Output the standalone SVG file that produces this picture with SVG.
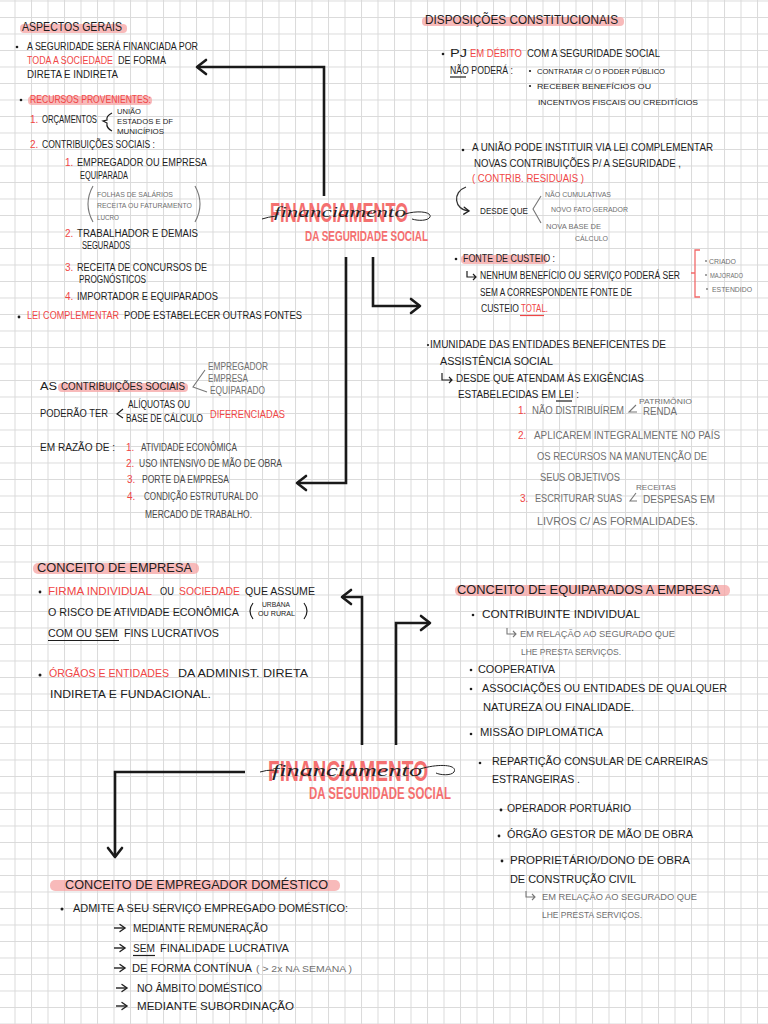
<svg xmlns="http://www.w3.org/2000/svg" width="768" height="1024" viewBox="0 0 768 1024">
<defs>
<pattern id="grid" width="16.5" height="16.5" patternUnits="userSpaceOnUse" x="14.5" y="0.5">
<path d="M0.5 0V16.5M0 0.5H16.5" stroke="#dadada" stroke-width="1" fill="none"/>
</pattern>
<marker id="ah" markerUnits="userSpaceOnUse" markerWidth="18" markerHeight="18" refX="13" refY="9" orient="auto">
<path d="M4,2 L13,9 L4,16" fill="none" stroke="#1a1a1a" stroke-width="2.6" stroke-linecap="round" stroke-linejoin="round"/>
</marker>
<marker id="ahs" markerUnits="userSpaceOnUse" markerWidth="10" markerHeight="10" refX="7" refY="5" orient="auto">
<path d="M2,1.5 L7,5 L2,8.5" fill="none" stroke="#222" stroke-width="1.4" stroke-linecap="round"/>
</marker>
<style>
text{font-family:"Liberation Sans",Arial,sans-serif;font-size:10px;fill:#1d1d1d}
.b{font-size:11.5px}
.h{font-size:12px}
.s{font-size:8px}
.s9{font-size:9px}
.r{fill:#f04646}
.g{fill:#6f6f6f}
.d{fill:#474747}
.hl{fill:#f6a3a3;opacity:.75}
.ttl{font-weight:bold;fill:#f47070}
.cur{font-family:"Liberation Serif",serif;font-style:italic;fill:#222}
.conn{stroke:#1a1a1a;stroke-width:2.6;fill:none}
.ln{stroke:#1d1d1d;stroke-width:1.2;fill:none}
.gl{stroke:#777;stroke-width:1.1;fill:none}
.dot{fill:#1d1d1d}
.gdot{fill:#777}
.arr{stroke:#222;stroke-width:1.4;fill:none}
</style>
</defs>
<rect width="768" height="1024" fill="#ffffff"/>
<rect width="768" height="1024" fill="url(#grid)"/>

<g id="connectors">
<path class="conn" d="M324,196 V67 H197" marker-end="url(#ah)"/>
<path class="conn" d="M346,257 V483 H297" marker-end="url(#ah)"/>
<path class="conn" d="M373,257 V306 H420" marker-end="url(#ah)"/>
<path class="conn" d="M362,745 V597 H342" marker-end="url(#ah)"/>
<path class="conn" d="M396,745 V623 H430" marker-end="url(#ah)"/>
<path class="conn" d="M245,772 H115 V857" marker-end="url(#ah)"/>
</g>

<g id="title-top">
<text class="ttl" x="270" y="222" style="font-size:27px" textLength="138" lengthAdjust="spacingAndGlyphs">FINANCIAMENTO</text>
<text class="ttl" x="305" y="241" style="font-size:15px" textLength="123" lengthAdjust="spacingAndGlyphs">DA SEGURIDADE SOCIAL</text>
<text class="cur" x="274" y="217" style="font-size:15px" textLength="132" lengthAdjust="spacingAndGlyphs">financiamento</text>
<path d="M262,219 Q268,217 276,216 M405,214 C418,210 432,212 430,217 C428,221 418,221 412,219" stroke="#222" stroke-width="1" fill="none"/>
</g>

<g id="title-bottom">
<text class="ttl" x="268" y="781" style="font-size:30px" textLength="160" lengthAdjust="spacingAndGlyphs">FINANCIAMENTO</text>
<text class="ttl" x="309" y="799" style="font-size:17px" textLength="142" lengthAdjust="spacingAndGlyphs">DA SEGURIDADE SOCIAL</text>
<text class="cur" x="272" y="776" style="font-size:16px" textLength="150" lengthAdjust="spacingAndGlyphs">financiamento</text>
<path d="M260,772 Q266,770 274,770 M420,769 C440,763 458,765 454,772 C451,776 440,775 436,773" stroke="#222" stroke-width="1" fill="none"/>
</g>

<g id="aspectos-gerais">
<rect class="hl" x="20" y="24" width="107" height="9" rx="4"/>
<text class="h" x="22" y="31" textLength="100" lengthAdjust="spacingAndGlyphs">ASPECTOS GERAIS</text>
<circle class="dot" cx="17" cy="47" r="1.3"/>
<text x="27" y="50" textLength="171" lengthAdjust="spacingAndGlyphs">A SEGURIDADE SERÁ FINANCIADA POR</text>
<text class="r" x="27" y="64" textLength="86" lengthAdjust="spacingAndGlyphs">TODA A SOCIEDADE</text>
<text x="118" y="64" textLength="48" lengthAdjust="spacingAndGlyphs">DE FORMA</text>
<text x="27" y="78" textLength="91" lengthAdjust="spacingAndGlyphs">DIRETA E INDIRETA</text>
</g>

<g id="recursos">
<circle class="dot" cx="21" cy="100" r="1.3"/>
<rect class="hl" x="28" y="96" width="124" height="9" rx="4"/>
<text class="r" x="30" y="103" textLength="121" lengthAdjust="spacingAndGlyphs">RECURSOS PROVENIENTES:</text>
<text class="r" x="30" y="123">1.</text>
<text x="42" y="123" textLength="55" lengthAdjust="spacingAndGlyphs">ORÇAMENTOS</text>
<path class="ln" d="M112,113 Q106,116 107,120 L103,121 L107,123 Q106,128 112,131"/>
<text class="s" x="117" y="114" textLength="24" lengthAdjust="spacingAndGlyphs">UNIÃO</text>
<text class="s" x="117" y="124" textLength="56" lengthAdjust="spacingAndGlyphs">ESTADOS E DF</text>
<text class="s" x="117" y="134" textLength="47" lengthAdjust="spacingAndGlyphs">MUNICÍPIOS</text>
<text class="r" x="30" y="148">2.</text>
<text x="42" y="148" textLength="113" lengthAdjust="spacingAndGlyphs">CONTRIBUIÇÕES SOCIAIS :</text>
<text class="r" x="65" y="166">1.</text>
<text x="77" y="166" textLength="130" lengthAdjust="spacingAndGlyphs">EMPREGADOR OU EMPRESA</text>
<text x="80" y="179" textLength="48" lengthAdjust="spacingAndGlyphs">EQUIPARADA</text>
<path class="gl" d="M93,186 Q83,204 93,222 M195,186 Q205,204 195,222"/>
<text class="s g" x="97" y="197" textLength="76" lengthAdjust="spacingAndGlyphs">FOLHAS DE SALÁRIOS</text>
<text class="s g" x="97" y="208" textLength="95" lengthAdjust="spacingAndGlyphs">RECEITA OU FATURAMENTO</text>
<text class="s g" x="97" y="220" textLength="22" lengthAdjust="spacingAndGlyphs">LUCRO</text>
<text class="r" x="65" y="237">2.</text>
<text x="77" y="237" textLength="121" lengthAdjust="spacingAndGlyphs">TRABALHADOR E DEMAIS</text>
<text x="82" y="249" textLength="48" lengthAdjust="spacingAndGlyphs">SEGURADOS</text>
<text class="r" x="65" y="271">3.</text>
<text x="77" y="271" textLength="130" lengthAdjust="spacingAndGlyphs">RECEITA DE CONCURSOS DE</text>
<text x="79" y="283" textLength="67" lengthAdjust="spacingAndGlyphs">PROGNÓSTICOS</text>
<text class="r" x="65" y="300">4.</text>
<text x="77" y="300" textLength="141" lengthAdjust="spacingAndGlyphs">IMPORTADOR E EQUIPARADOS</text>
<circle class="dot" cx="19" cy="317" r="1.4"/>
<text class="r" x="27" y="319" textLength="92" lengthAdjust="spacingAndGlyphs">LEI COMPLEMENTAR</text>
<text x="124" y="319" textLength="178" lengthAdjust="spacingAndGlyphs">PODE ESTABELECER OUTRAS FONTES</text>
</g>

<g id="contribuicoes-sociais">
<text x="40" y="390" textLength="17" lengthAdjust="spacingAndGlyphs">AS</text>
<rect class="hl" x="58" y="383" width="130" height="9" rx="4"/>
<text x="61" y="390" textLength="124" lengthAdjust="spacingAndGlyphs">CONTRIBUIÇÕES SOCIAIS</text>
<path class="gl" d="M205,370 L193,387 L207,392"/>
<text class="g" x="208" y="370" textLength="60" lengthAdjust="spacingAndGlyphs">EMPREGADOR</text>
<text class="g" x="208" y="382" textLength="40" lengthAdjust="spacingAndGlyphs">EMPRESA</text>
<text class="g" x="210" y="394" textLength="55" lengthAdjust="spacingAndGlyphs">EQUIPARADO</text>
<text x="40" y="417" textLength="68" lengthAdjust="spacingAndGlyphs">PODERÃO TER</text>
<path class="ln" d="M123,409 L117,414 L123,418"/>
<text x="128" y="408" textLength="62" lengthAdjust="spacingAndGlyphs">ALÍQUOTAS OU</text>
<text x="126" y="422" textLength="77" lengthAdjust="spacingAndGlyphs">BASE DE CÁLCULO</text>
<text class="r" x="210" y="418" textLength="75" lengthAdjust="spacingAndGlyphs">DIFERENCIADAS</text>
<text x="40" y="451" textLength="75" lengthAdjust="spacingAndGlyphs">EM RAZÃO DE :</text>
<text class="r" x="126" y="451">1.</text>
<text class="d" x="141" y="451" textLength="96" lengthAdjust="spacingAndGlyphs">ATIVIDADE ECONÔMICA</text>
<text class="r" x="126" y="467">2.</text>
<text class="d" x="139" y="467" textLength="143" lengthAdjust="spacingAndGlyphs">USO INTENSIVO DE MÃO DE OBRA</text>
<text class="r" x="127" y="483">3.</text>
<text class="d" x="142" y="483" textLength="87" lengthAdjust="spacingAndGlyphs">PORTE DA EMPRESA</text>
<text class="r" x="127" y="500">4.</text>
<text class="d" x="144" y="500" textLength="114" lengthAdjust="spacingAndGlyphs">CONDIÇÃO ESTRUTURAL DO</text>
<text class="d" x="145" y="518" textLength="107" lengthAdjust="spacingAndGlyphs">MERCADO DE TRABALHO.</text>
</g>

<g id="disposicoes">
<rect class="hl" x="422" y="17" width="202" height="9" rx="4"/>
<text class="h" x="425" y="24" textLength="193" lengthAdjust="spacingAndGlyphs">DISPOSIÇÕES CONSTITUCIONAIS</text>
<circle class="dot" cx="443" cy="54" r="1.3"/>
<text x="450" y="57" textLength="17" lengthAdjust="spacingAndGlyphs">PJ</text>
<text class="r" x="470" y="57" textLength="52" lengthAdjust="spacingAndGlyphs">EM DÉBITO</text>
<text x="527" y="57" textLength="133" lengthAdjust="spacingAndGlyphs">COM A SEGURIDADE SOCIAL</text>
<text x="450" y="74" textLength="63" lengthAdjust="spacingAndGlyphs">NÃO PODERÁ :</text>
<path class="ln" d="M450,77 H466"/>
<circle class="dot" cx="530" cy="71" r="1.1"/>
<text class="s" x="537" y="74" textLength="128" lengthAdjust="spacingAndGlyphs">CONTRATAR C/ O PODER PÚBLICO</text>
<circle class="dot" cx="530" cy="86" r="1.1"/>
<text class="s" x="537" y="89" textLength="114" lengthAdjust="spacingAndGlyphs">RECEBER BENEFÍCIOS OU</text>
<text class="s" x="538" y="105" textLength="160" lengthAdjust="spacingAndGlyphs">INCENTIVOS FISCAIS OU CREDITÍCIOS</text>
</g>

<g id="uniao">
<circle class="dot" cx="463" cy="150" r="1.3"/>
<text x="472" y="151" textLength="241" lengthAdjust="spacingAndGlyphs">A UNIÃO PODE INSTITUIR VIA LEI COMPLEMENTAR</text>
<text x="474" y="167" textLength="207" lengthAdjust="spacingAndGlyphs">NOVAS CONTRIBUIÇÕES P/ A SEGURIDADE ,</text>
<text class="r" x="472" y="182" textLength="112" lengthAdjust="spacingAndGlyphs">( CONTRIB. RESIDUAIS )</text>
<path d="M466,187 C452,192 454,210 469,211" stroke="#333" stroke-width="1.3" fill="none" marker-end="url(#ahs)"/>
<text class="s9" x="480" y="214" textLength="48" lengthAdjust="spacingAndGlyphs">DESDE QUE</text>
<path class="gl" d="M541,196 L533,209 L541,223"/>
<text class="s g" x="545" y="197" textLength="66" lengthAdjust="spacingAndGlyphs">NÃO CUMULATIVAS</text>
<text class="s g" x="551" y="212" textLength="77" lengthAdjust="spacingAndGlyphs">NOVO FATO GERADOR</text>
<text class="s g" x="546" y="229" textLength="55" lengthAdjust="spacingAndGlyphs">NOVA BASE DE</text>
<text class="s g" x="575" y="241" textLength="33" lengthAdjust="spacingAndGlyphs">CÁLCULO</text>
</g>

<g id="fonte-custeio">
<circle class="dot" cx="456" cy="259" r="1.3"/>
<rect class="hl" x="461" y="255" width="86" height="9" rx="4"/>
<text x="463" y="262" textLength="92" lengthAdjust="spacingAndGlyphs">FONTE DE CUSTEIO :</text>
<path class="ln" d="M467,271 V277 H476 M473,274 L476,277 L473,280"/>
<text x="480" y="279" textLength="200" lengthAdjust="spacingAndGlyphs">NENHUM BENEFÍCIO OU SERVIÇO PODERÁ SER</text>
<text x="480" y="296" textLength="152" lengthAdjust="spacingAndGlyphs">SEM A CORRESPONDENTE FONTE DE</text>
<text x="481" y="312" textLength="38" lengthAdjust="spacingAndGlyphs">CUSTEIO</text>
<text class="r" x="521" y="312" textLength="27" lengthAdjust="spacingAndGlyphs">TOTAL.</text>
<path d="M520,315.5 H544" stroke="#f04646" stroke-width="1.2"/>
<path d="M700,250 H695 V297 H700 M695,273 H691" stroke="#f26a6a" stroke-width="1.3" fill="none"/>
<circle class="gdot" cx="706" cy="261" r="0.9"/>
<text class="s g" x="709" y="264" textLength="27" lengthAdjust="spacingAndGlyphs">CRIADO</text>
<circle class="gdot" cx="706" cy="275" r="0.9"/>
<text class="s g" x="710" y="278" textLength="33" lengthAdjust="spacingAndGlyphs">MAJORADO</text>
<circle class="gdot" cx="707" cy="289" r="0.9"/>
<text class="s g" x="712" y="292" textLength="40" lengthAdjust="spacingAndGlyphs">ESTENDIDO</text>
</g>

<g id="imunidade">
<circle class="dot" cx="428" cy="345" r="1.1"/>
<text x="430" y="348" textLength="236" lengthAdjust="spacingAndGlyphs">IMUNIDADE DAS ENTIDADES BENEFICENTES DE</text>
<text x="440" y="365" textLength="113" lengthAdjust="spacingAndGlyphs">ASSISTÊNCIA SOCIAL</text>
<path class="ln" d="M442,373 V380 H452 M449,377 L452,380 L449,383"/>
<text x="456" y="382" textLength="188" lengthAdjust="spacingAndGlyphs">DESDE QUE ATENDAM ÀS EXIGÊNCIAS</text>
<text x="458" y="398" textLength="121" lengthAdjust="spacingAndGlyphs">ESTABELECIDAS EM LEI :</text>
<path class="ln" d="M556,401 H572"/>
<text class="r" x="518" y="414">1.</text>
<text class="g" x="532" y="414" textLength="92" lengthAdjust="spacingAndGlyphs">NÃO DISTRIBUÍREM</text>
<path class="gl" d="M636,405 L629,412 H637"/>
<text class="s g" x="639" y="404" textLength="53" lengthAdjust="spacingAndGlyphs">PATRIMÔNIO</text>
<text class="g" x="643" y="415" textLength="34" lengthAdjust="spacingAndGlyphs">RENDA</text>
<text class="r" x="518" y="439">2.</text>
<text class="g" x="534" y="439" textLength="186" lengthAdjust="spacingAndGlyphs">APLICAREM INTEGRALMENTE NO PAÍS</text>
<text class="g" x="537" y="460" textLength="170" lengthAdjust="spacingAndGlyphs">OS RECURSOS NA MANUTENÇÃO DE</text>
<text class="g" x="540" y="481" textLength="80" lengthAdjust="spacingAndGlyphs">SEUS OBJETIVOS</text>
<text class="r" x="520" y="502">3.</text>
<text class="g" x="535" y="502" textLength="87" lengthAdjust="spacingAndGlyphs">ESCRITURAR SUAS</text>
<path class="gl" d="M636,493 L630,501 H637"/>
<text class="s g" x="636" y="490" textLength="40" lengthAdjust="spacingAndGlyphs">RECEITAS</text>
<text class="g" x="643" y="503" textLength="72" lengthAdjust="spacingAndGlyphs">DESPESAS EM</text>
<text class="g" x="537" y="525" textLength="161" lengthAdjust="spacingAndGlyphs">LIVROS C/ AS FORMALIDADES.</text>
</g>

<g id="conceito-empresa">
<rect class="hl" x="33" y="563" width="166" height="11" rx="5"/>
<text class="h" x="37" y="572" textLength="155" lengthAdjust="spacingAndGlyphs">CONCEITO DE EMPRESA</text>
<circle class="dot" cx="40" cy="592" r="1.4"/>
<text class="b r" x="48" y="595" textLength="104" lengthAdjust="spacingAndGlyphs">FIRMA INDIVIDUAL</text>
<text class="b" x="160" y="595" textLength="14" lengthAdjust="spacingAndGlyphs">OU</text>
<text class="b r" x="179" y="595" textLength="61" lengthAdjust="spacingAndGlyphs">SOCIEDADE</text>
<text class="b" x="245" y="595" textLength="70" lengthAdjust="spacingAndGlyphs">QUE ASSUME</text>
<text class="b" x="48" y="616" textLength="191" lengthAdjust="spacingAndGlyphs">O RISCO DE ATIVIDADE ECONÔMICA</text>
<path class="ln" d="M253,603 Q247,611 253,619 M304,603 Q310,611 304,619"/>
<text class="s" x="262" y="607" textLength="28" lengthAdjust="spacingAndGlyphs">URBANA</text>
<text class="s" x="258" y="616" textLength="37" lengthAdjust="spacingAndGlyphs">OU RURAL</text>
<text class="b" x="48" y="637" textLength="70" lengthAdjust="spacingAndGlyphs">COM OU SEM</text>
<path class="ln" d="M48,640.5 H119" stroke-width="1.4"/>
<text class="b" x="124" y="637" textLength="95" lengthAdjust="spacingAndGlyphs">FINS LUCRATIVOS</text>
<circle class="dot" cx="40" cy="675" r="1.5"/>
<text class="b r" x="49" y="677" textLength="120" lengthAdjust="spacingAndGlyphs">ÓRGÃOS E ENTIDADES</text>
<text class="b" x="178" y="677" textLength="130" lengthAdjust="spacingAndGlyphs">DA ADMINIST. DIRETA</text>
<text class="b" x="50" y="698" textLength="161" lengthAdjust="spacingAndGlyphs">INDIRETA E FUNDACIONAL.</text>
</g>

<g id="conceito-equiparados">
<rect class="hl" x="455" y="585" width="275" height="11" rx="5"/>
<text class="h" x="457" y="594" textLength="263" lengthAdjust="spacingAndGlyphs">CONCEITO DE EQUIPARADOS A EMPRESA</text>
<circle class="dot" cx="473" cy="615" r="1.3"/>
<text class="b" x="482" y="618" textLength="158" lengthAdjust="spacingAndGlyphs">CONTRIBUINTE INDIVIDUAL</text>
<path class="gl" d="M507,628 V634 H516 M513,631 L516,634 L513,637"/>
<text class="s9 g" x="520" y="637" textLength="155" lengthAdjust="spacingAndGlyphs">EM RELAÇÃO AO SEGURADO QUE</text>
<text class="s9 g" x="521" y="655" textLength="100" lengthAdjust="spacingAndGlyphs">LHE PRESTA SERVIÇOS.</text>
<circle class="dot" cx="471" cy="670" r="1.3"/>
<text class="b" x="478" y="673" textLength="77" lengthAdjust="spacingAndGlyphs">COOPERATIVA</text>
<circle class="dot" cx="471" cy="689" r="1.3"/>
<text class="b" x="482" y="692" textLength="245" lengthAdjust="spacingAndGlyphs">ASSOCIAÇÕES OU ENTIDADES DE QUALQUER</text>
<text class="b" x="483" y="711" textLength="151" lengthAdjust="spacingAndGlyphs">NATUREZA OU FINALIDADE.</text>
<circle class="dot" cx="471" cy="734" r="1.3"/>
<text class="b" x="480" y="736" textLength="123" lengthAdjust="spacingAndGlyphs">MISSÃO DIPLOMÁTICA</text>
<circle class="dot" cx="480" cy="763" r="1.3"/>
<text class="b" x="492" y="765" textLength="216" lengthAdjust="spacingAndGlyphs">REPARTIÇÃO CONSULAR DE CARREIRAS</text>
<text class="b" x="492" y="783" textLength="88" lengthAdjust="spacingAndGlyphs">ESTRANGEIRAS .</text>
<circle class="dot" cx="501" cy="810" r="1.4"/>
<text class="b" x="507" y="812" textLength="124" lengthAdjust="spacingAndGlyphs">OPERADOR PORTUÁRIO</text>
<circle class="dot" cx="499" cy="836" r="1.4"/>
<text class="b" x="507" y="838" textLength="186" lengthAdjust="spacingAndGlyphs">ÓRGÃO GESTOR DE MÃO DE OBRA</text>
<circle class="dot" cx="502" cy="861" r="1.4"/>
<text class="b" x="510" y="864" textLength="180" lengthAdjust="spacingAndGlyphs">PROPRIETÁRIO/DONO DE OBRA</text>
<text class="b" x="510" y="883" textLength="126" lengthAdjust="spacingAndGlyphs">DE CONSTRUÇÃO CIVIL</text>
<path class="gl" d="M526,891 V897 H535 M532,894 L535,897 L532,900"/>
<text class="s9 g" x="542" y="900" textLength="155" lengthAdjust="spacingAndGlyphs">EM RELAÇÃO AO SEGURADO QUE</text>
<text class="s9 g" x="542" y="918" textLength="100" lengthAdjust="spacingAndGlyphs">LHE PRESTA SERVIÇOS.</text>
</g>

<g id="empregador-domestico">
<rect class="hl" x="50" y="880" width="290" height="11" rx="5"/>
<text class="h" x="65" y="889" textLength="263" lengthAdjust="spacingAndGlyphs">CONCEITO DE EMPREGADOR DOMÉSTICO</text>
<circle class="dot" cx="62" cy="909" r="1.5"/>
<text class="b" x="73" y="912" textLength="275" lengthAdjust="spacingAndGlyphs">ADMITE A SEU SERVIÇO EMPREGADO DOMÉSTICO:</text>
<path class="arr" d="M114,928 H125" marker-end="url(#ahs)"/>
<text class="b" x="133" y="932" textLength="135" lengthAdjust="spacingAndGlyphs">MEDIANTE REMUNERAÇÃO</text>
<path class="arr" d="M114,948 H125" marker-end="url(#ahs)"/>
<text class="b" x="133" y="952" textLength="22" lengthAdjust="spacingAndGlyphs">SEM</text>
<path class="ln" d="M133,955.5 H155" stroke-width="1.4"/>
<text class="b" x="160" y="952" textLength="129" lengthAdjust="spacingAndGlyphs">FINALIDADE LUCRATIVA</text>
<path class="arr" d="M114,968 H125" marker-end="url(#ahs)"/>
<text class="b" x="132" y="972" textLength="120" lengthAdjust="spacingAndGlyphs">DE FORMA CONTÍNUA</text>
<text class="s9 g" x="256" y="972" textLength="96" lengthAdjust="spacingAndGlyphs">( &gt; 2x NA SEMANA )</text>
<path class="arr" d="M116,988 H127" marker-end="url(#ahs)"/>
<text class="b" x="137" y="992" textLength="125" lengthAdjust="spacingAndGlyphs">NO ÂMBITO DOMÉSTICO</text>
<path class="arr" d="M116,1006 H127" marker-end="url(#ahs)"/>
<text class="b" x="137" y="1010" textLength="157" lengthAdjust="spacingAndGlyphs">MEDIANTE SUBORDINAÇÃO</text>
</g>
</svg>
